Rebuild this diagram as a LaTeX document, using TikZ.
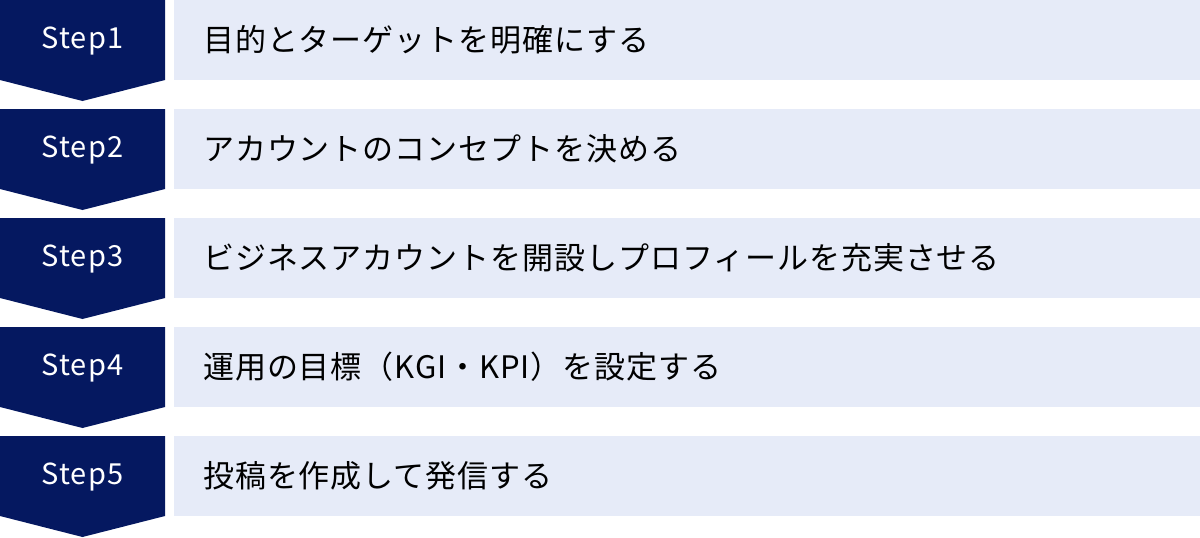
\documentclass[tikz,border=0pt]{standalone}
\usepackage{fontspec}
\setmainfont{Noto Sans CJK JP}[LetterSpace=3]
\newfontfamily\stepfont{Noto Sans CJK JP}[LetterSpace=4]
\definecolor{navy}{RGB}{5,24,96}
\definecolor{lightbox}{RGB}{230,235,248}
\begin{document}
\begin{tikzpicture}[x=1pt,y=-1pt,
  stepshape/.style={fill=navy,draw=none},
  stepbox/.style={fill=lightbox,draw=none},
  steplabel/.style={text=white,font=\stepfont\fontsize{29}{34}\selectfont,inner sep=0pt,anchor=center},
  boxtext/.style={text=black,font=\fontsize{31}{36}\selectfont,inner sep=0pt,anchor=west}]
\useasboundingbox (0,0) rectangle (1200,538);
\foreach \i/\t in {0/{目的とターゲットを明確にする},
                   1/{アカウントのコンセプトを決める},
                   2/{ビジネスアカウントを開設しプロフィールを充実させる},
                   3/{運用の目標（KGI・KPI）を設定する},
                   4/{投稿を作成して発信する}}{
  \pgfmathsetmacro{\yy}{\i*109}
  \pgfmathtruncatemacro{\n}{\i+1}
  \fill[stepshape] (0,\yy) -- (165,\yy) -- (165,\yy+80) -- (82.5,\yy+101) -- (0,\yy+80) -- cycle;
  \node[steplabel] (s\n) at (82.5,\yy+41) {Step\n};
  \fill[stepbox] (174,\yy) rectangle (1200,\yy+80);
  \node[boxtext] (t\n) at (203,\yy+40) {\t};
}
\end{tikzpicture}
\end{document}
